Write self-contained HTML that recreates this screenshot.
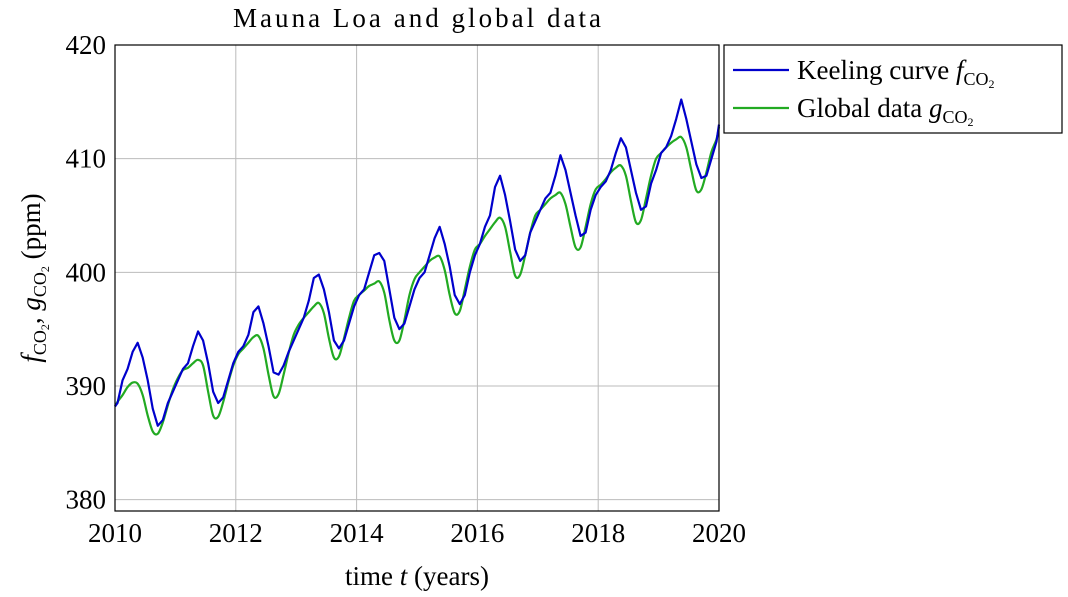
<!DOCTYPE html>
<html><head><meta charset="utf-8">
<style>
body{margin:0;background:#fff;}
svg{display:block;font-family:"Liberation Serif",serif;}
</style></head>
<body>
<svg id="chart" width="1068" height="597" viewBox="0 0 1068 597" xmlns="http://www.w3.org/2000/svg">
<text x="417" y="27" font-size="27" text-anchor="middle" textLength="368">Mauna Loa and global data</text>
<g id="grid"></g>
<g id="ticks"></g>
<g id="series"></g>
<rect x="115" y="45" width="604" height="466" fill="none" stroke="#000" stroke-width="1.2"/>
<text x="417" y="585" font-size="27" text-anchor="middle">time <tspan font-style="italic">t</tspan> (years)</text>
<text transform="translate(40,278) rotate(-90)" font-size="27" text-anchor="middle"><tspan font-style="italic">f</tspan><tspan font-size="18" dy="6">CO</tspan><tspan font-size="12" dy="3">2</tspan><tspan dy="-9">, </tspan><tspan font-style="italic">g</tspan><tspan font-size="18" dy="6">CO</tspan><tspan font-size="12" dy="3">2</tspan><tspan dy="-9"> (ppm)</tspan></text>
<g>
<rect x="724" y="45" width="338" height="88" fill="#fff" stroke="#000" stroke-width="1.2"/>
<g>
<line x1="733" y1="70" x2="789" y2="70" stroke="#0000cc" stroke-width="2.2"/>
<text x="797" y="79" font-size="27">Keeling curve <tspan font-style="italic">f</tspan><tspan font-size="18" dy="6">CO</tspan><tspan font-size="12" dy="3">2</tspan></text>
</g>
<g>
<line x1="733" y1="108" x2="789" y2="108" stroke="#22aa22" stroke-width="2.2"/>
<text x="797" y="117" font-size="27">Global data <tspan font-style="italic">g</tspan><tspan font-size="18" dy="6">CO</tspan><tspan font-size="12" dy="3">2</tspan></text>
</g>
</g>
</svg>
<script>
const xTicks=[2010,2012,2014,2016,2018,2020];
const yTicks=[380,390,400,410,420];
const keelingYears=[2010,2011,2012,2013,2014,2015,2016,2017,2018,2019];
const keelingMonthly=[
[388.5,390.5,391.5,393,393.8,392.5,390.5,388,386.5,387,388.5,389.5],
[390.5,391.5,392,393.5,394.8,394,392,389.5,388.5,389,390.5,392],
[393,393.5,394.5,396.5,397,395.5,393.5,391.2,391,391.8,393,394],
[395,396,397.5,399.5,399.8,398.5,396.5,394,393.3,394,395.5,397],
[398,398.5,400,401.5,401.7,401,398.5,396,395,395.5,397,398.5],
[399.5,400,401.5,403,404,402.5,400.5,398,397.2,398,400,401.5],
[402.5,404,405,407.5,408.5,406.8,404.5,402,401,401.5,403.5,404.5],
[405.5,406.5,407,408.5,410.3,409,407,405,403.2,403.5,405.5,406.8],
[407.5,408,409,410.5,411.8,411,409,407,405.5,405.8,407.8,409],
[410.5,411,412,413.5,415.2,413.5,411.5,409.5,408.3,408.5,410,411.5]];
const keelingStart=388.2, keelingEnd=413;
const globalMonthly=[
[388.6,389.2,389.9,390.3,390.2,389.2,387.4,386,385.8,386.8,388.3,389.7],
[390.7,391.4,391.6,392,392.3,391.8,389.5,387.4,387.3,388.6,390.3,391.8],
[392.8,393.3,393.8,394.3,394.4,393.3,391,389.1,389.3,391,392.9,394.5],
[395.4,396,396.5,397,397.3,396.4,394.2,392.5,392.6,394.2,396,397.5],
[398,398.4,398.8,399,399.2,398.2,395.8,394,394,395.8,398,399.4],
[400,400.5,401,401.3,401.4,400.2,398,396.4,396.6,398.5,400.5,402],
[402.5,403.2,403.8,404.4,404.8,404,401.8,399.7,399.8,401.5,403.5,405],
[405.5,406,406.5,406.8,407,406,404,402.2,402.2,404,406,407.3],
[407.7,408.2,408.8,409.2,409.4,408.5,406.3,404.4,404.6,406.5,408.5,410],
[410.5,411,411.4,411.7,411.9,411,409,407.2,407.3,408.8,410.6,411.7]];
const globalStart=388.2, globalEnd=412.8;

const X0=115,X1=719,Y0=511,Y1=45,XMIN=2010,XMAX=2020,YMIN=379,YMAX=420;
const xs=v=>X0+(v-XMIN)/(XMAX-XMIN)*(X1-X0);
const ys=v=>Y0-(v-YMIN)/(YMAX-YMIN)*(Y0-Y1);
const NS="http://www.w3.org/2000/svg";
const grid=document.getElementById('grid'),ticks=document.getElementById('ticks'),series=document.getElementById('series');
function mk(t,a,p){const e=document.createElementNS(NS,t);for(const k in a)e.setAttribute(k,a[k]);p.appendChild(e);return e;}
xTicks.forEach(v=>{
 const l=mk('line',{x1:xs(v),x2:xs(v),y1:Y1,y2:Y0,stroke:'#bbb','stroke-width':1},grid);
 
 
 const t=mk('text',{x:xs(v),y:542,'font-size':27,'text-anchor':'middle'},ticks);t.textContent=v;
 
 
});
yTicks.forEach(v=>{
 const l=mk('line',{x1:X0,x2:X1,y1:ys(v),y2:ys(v),stroke:'#bbb','stroke-width':1},grid);
 
 
 const t=mk('text',{x:106,y:ys(v)+9,'font-size':27,'text-anchor':'end'},ticks);t.textContent=v;
 
 
});
function pts(start,monthly,end){
 const p=[[XMIN,start]];
 monthly.forEach((yr,i)=>yr.forEach((v,m)=>p.push([keelingYears[i]+(m+0.5)/12,v])));
 p.push([XMAX,end]);
 return p.map(q=>[xs(q[0]),ys(q[1])]);
}
function smooth(p){
 let d='M'+p[0][0]+','+p[0][1];
 for(let i=0;i<p.length-1;i++){
  const a=p[Math.max(0,i-1)],b=p[i],c=p[i+1],e=p[Math.min(p.length-1,i+2)];
  d+=` C${b[0]+(c[0]-a[0])/6},${b[1]+(c[1]-a[1])/6} ${c[0]-(e[0]-b[0])/6},${c[1]-(e[1]-b[1])/6} ${c[0]},${c[1]}`;
 }
 return d;
}
const gp=mk('path',{d:smooth(pts(globalStart,globalMonthly,globalEnd)),fill:'none',stroke:'#22aa22','stroke-width':2.2},series);


const kp=mk('polyline',{points:pts(keelingStart,keelingMonthly,keelingEnd).map(q=>q.join(',')).join(' '),fill:'none',stroke:'#0000cc','stroke-width':2.2,'stroke-linejoin':'round'},series);


</script>
</body></html>
